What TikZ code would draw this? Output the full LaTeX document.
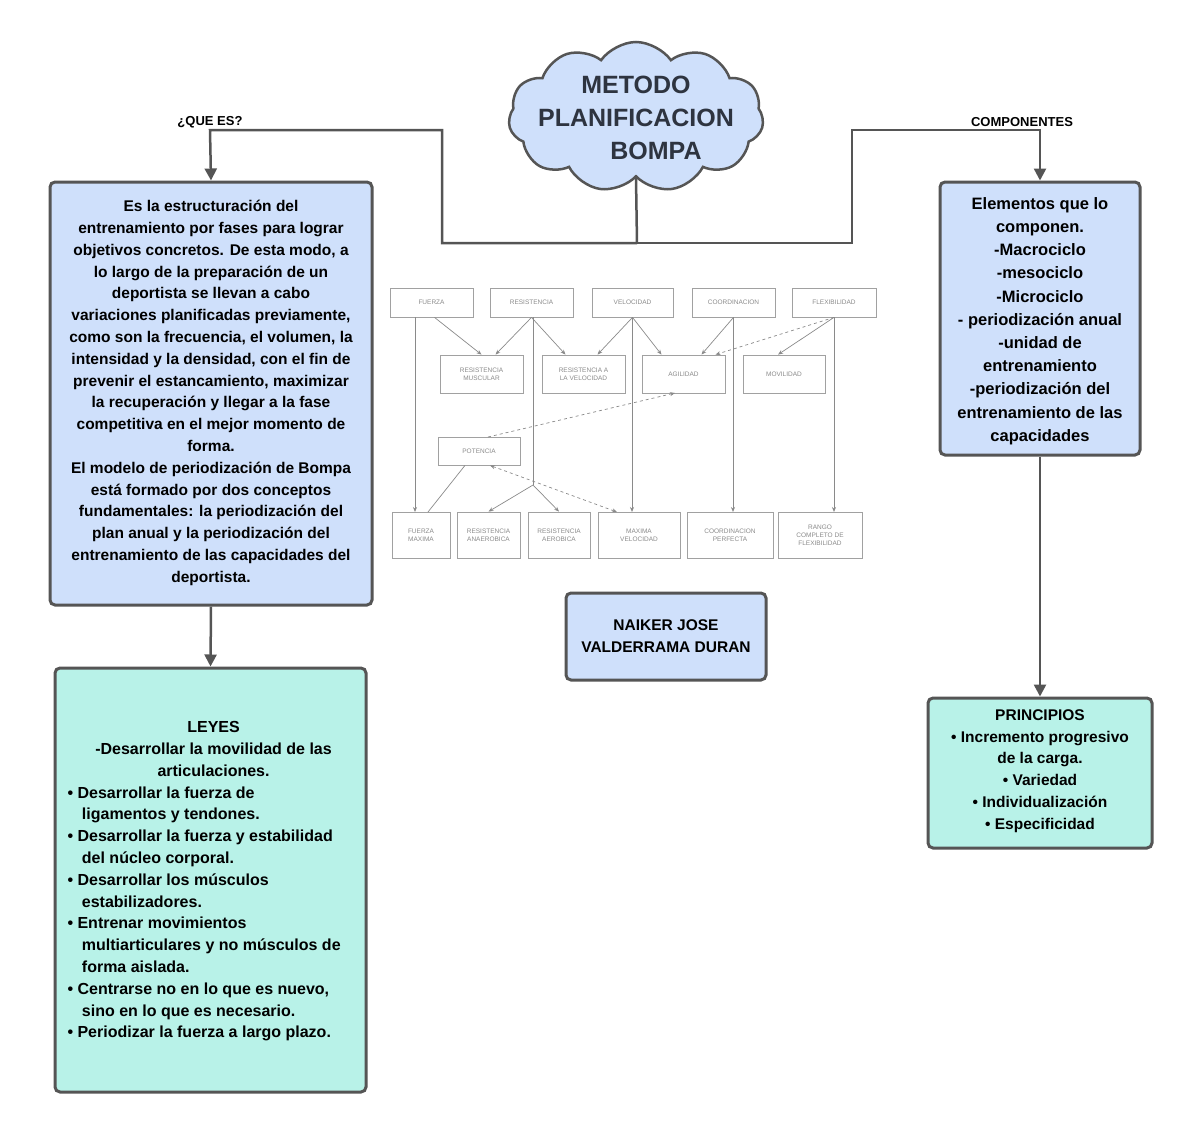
\documentclass[tikz,border=0pt]{standalone}
\usepackage{fontspec}
\setmainfont{Liberation Sans}
\usetikzlibrary{shapes.symbols,arrows.meta}
\definecolor{bluef}{HTML}{CFE0FB}
\definecolor{mint}{HTML}{B8F2E8}
\definecolor{edge}{HTML}{555555}
\definecolor{mini}{HTML}{8A8A8A}
\definecolor{title}{HTML}{2E3440}
\begin{document}
\begin{tikzpicture}[x=1pt,y=-1pt,
 box/.style={draw=edge,line width=3,rounded corners=5,inner sep=0},
 con/.style={draw=edge,line width=2.5},
 arr/.style={con,-{Triangle[length=12,width=12]}},
 txt/.style={font=\bfseries\fontsize{15.5}{21.8}\selectfont,align=center},
 lbl/.style={font=\bfseries\fontsize{13}{15}\selectfont},
 mb/.style={draw=mini!80,line width=0.8,fill=white,font=\fontsize{6.5}{8}\selectfont,text=mini,align=center,inner sep=0},
 ma/.style={draw=mini,line width=0.7,-{Stealth[length=5,width=4]}},
 md/.style={ma,dashed}]
\useasboundingbox (0,0) rectangle (1200,1141);
% cloud
\node[cloud,cloud puffs=11,cloud puff arc=110,aspect=1.9,draw=edge,line width=2.5,fill=bluef,minimum width=255,minimum height=150] (cl) at (636,117) {};
\node[font=\bfseries\fontsize{25}{33}\selectfont,text=title,align=center] (clt) at (636,118) {METODO\\PLANIFICACION\\\hspace*{1.6em}BOMPA};
% boxes
\node[box,fill=bluef,minimum width=322,minimum height=423] (que) at (211,393.5) {};
\node[txt] at (211,393) {Es la estructuración del\\entrenamiento por fases para lograr\\objetivos concretos. De esta modo, a\\lo largo de la preparación de un\\deportista se llevan a cabo\\variaciones planificadas previamente,\\como son la frecuencia, el volumen, la\\intensidad y la densidad, con el fin de\\prevenir el estancamiento, maximizar\\la recuperación y llegar a la fase\\competitiva en el mejor momento de\\forma.\\El modelo de periodización de Bompa\\está formado por dos conceptos\\fundamentales: la periodización del\\plan anual y la periodización del\\entrenamiento de las capacidades del\\deportista.};
\node[box,fill=bluef,minimum width=200,minimum height=273] (comp) at (1040,318.5) {};
\node[txt,font=\bfseries\fontsize{16.5}{23.2}\selectfont] at (1040,321) {Elementos que lo\\componen.\\-Macrociclo\\-mesociclo\\-Microciclo\\- periodización anual\\-unidad de\\entrenamiento\\-periodización del\\entrenamiento de las\\capacidades};
\node[box,fill=mint,minimum width=311,minimum height=424] (ley) at (210.5,880) {};
\node[txt,font=\bfseries\fontsize{16}{21.8}\selectfont,align=left,anchor=north west] at (64,718) {\makebox[292pt]{LEYES}\\\makebox[292pt]{-Desarrollar la movilidad de las}\\\makebox[292pt]{articulaciones.}\\• Desarrollar la fuerza de\\\hspace*{0.9em}ligamentos y tendones.\\• Desarrollar la fuerza y estabilidad\\\hspace*{0.9em}del núcleo corporal.\\• Desarrollar los músculos\\\hspace*{0.9em}estabilizadores.\\• Entrenar movimientos\\\hspace*{0.9em}multiarticulares y no músculos de\\\hspace*{0.9em}forma aislada.\\• Centrarse no en lo que es nuevo,\\\hspace*{0.9em}sino en lo que es necesario.\\• Periodizar la fuerza a largo plazo.};
\node[box,fill=mint,minimum width=224,minimum height=150] (prin) at (1040,773) {};
\node[txt] at (1040,771) {PRINCIPIOS\\• Incremento progresivo\\de la carga.\\• Variedad\\• Individualización\\• Especificidad};
\node[box,fill=bluef,minimum width=200,minimum height=87] (nai) at (666,636.5) {};
\node[txt] at (666,636) {NAIKER JOSE\\VALDERRAMA DURAN};
% connectors
\coordinate (b) at (637,243);
\draw[con] (cl.south) -- (b);
\draw[arr] (b) -- (442,243) -- (442,130) -- (210,130) -- (que.north);
\draw[arr] (b) -- (852,243) -- (852,130) -- (1040,130) -- (comp.north);
\node[lbl] at (210,122) {¿QUE ES?};
\node[lbl] at (1022,122) {COMPONENTES};
\draw[arr] (que.south) -- (ley.north);
\draw[arr] (comp.south) -- (prin.north);
% mini diagram
\node[mb,minimum width=83,minimum height=29] (f) at (431.5,302.5) {FUERZA};
\node[mb,minimum width=83,minimum height=29] (r) at (531.5,302.5) {RESISTENCIA};
\node[mb,minimum width=81,minimum height=29] (v) at (632.5,302.5) {VELOCIDAD};
\node[mb,minimum width=83,minimum height=29] (c) at (733.5,302.5) {COORDINACION};
\node[mb,minimum width=84,minimum height=29] (fl) at (834,302.5) {FLEXIBILIDAD};
\node[mb,minimum width=83,minimum height=38] (rm) at (481.5,374) {RESISTENCIA\\MUSCULAR};
\node[mb,minimum width=83,minimum height=38] (rv) at (583.5,374) {RESISTENCIA A\\LA VELOCIDAD};
\node[mb,minimum width=83,minimum height=38] (ag) at (683.5,374) {AGILIDAD};
\node[mb,minimum width=82,minimum height=38] (mo) at (784,374) {MOVILIDAD};
\node[mb,minimum width=82,minimum height=28] (po) at (479,451) {POTENCIA};
\node[mb,minimum width=58,minimum height=46] (fm) at (421,535) {FUERZA\\MAXIMA};
\node[mb,minimum width=63,minimum height=46] (ran) at (488.5,535) {RESISTENCIA\\ANAEROBICA};
\node[mb,minimum width=62,minimum height=46] (rae) at (559,535) {RESISTENCIA\\AEROBICA};
\node[mb,minimum width=82,minimum height=46] (mv) at (639,535) {MAXIMA\\VELOCIDAD};
\node[mb,minimum width=86,minimum height=46] (cp) at (730,535) {COORDINACION\\PERFECTA};
\node[mb,minimum width=84,minimum height=46] (rc) at (820,535) {RANGO\\COMPLETO DE\\FLEXIBILIDAD};
\draw[ma] (f.south) ++(3,0) -- (rm.north);
\draw[ma] (r.south) -- ([xshift=14]rm.north);
\draw[ma] (r.south) -- ([xshift=-18]rv.north);
\draw[ma] (v.south) -- ([xshift=14]rv.north);
\draw[ma] (v.south) -- ([xshift=-22]ag.north);
\draw[ma] (c.south) -- ([xshift=18]ag.north);
\draw[md] (fl.south) -- ([xshift=32]ag.north);
\draw[ma] (fl.south) -- ([xshift=-6]mo.north);
\draw[ma] (415,317) -- (415,512);
\coordinate (rj) at (533,485);
\draw[mini,line width=0.7] (533,317) -- (rj);
\draw[ma] (rj) -- (ran.north);
\draw[ma] (rj) -- (rae.north);
\draw[ma] (632,317) -- (632,512);
\draw[ma] (733,317) -- (733,512);
\draw[ma] (834,317) -- (834,512);
\draw[md] (488,437) -- (675,393);
\draw[mini,line width=0.7] ([xshift=-14]po.south) -- (428,512);
\draw[md,{Stealth[length=5,width=4]}-{Stealth[length=5,width=4]}] ([xshift=11]po.south) -- (617,512);
\end{tikzpicture}
\end{document}
